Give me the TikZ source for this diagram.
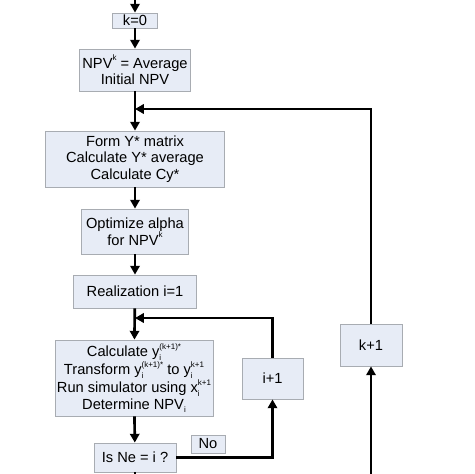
\documentclass[tikz,border=0pt]{standalone}
\usepackage{fontspec}
\setmainfont{Liberation Sans}
\usepackage{tikz}
\usetikzlibrary{arrows.meta, positioning}

\definecolor{boxfill}{RGB}{231,236,246}
\definecolor{boxline}{RGB}{168,172,178}

% 小号上下标(叠放)
\newcommand{\tsup}[1]{\raisebox{0.5em}{\fontsize{6}{6}\selectfont #1}}
\newcommand{\tsub}[1]{\raisebox{-0.25em}{\fontsize{6}{6}\selectfont #1}}
\newcommand{\yss}[2]{\rlap{\tsub{#1}}\tsup{#2}}

\begin{document}
\begin{tikzpicture}[
  >={Triangle[width=7pt, length=6.6pt]},
  x=0.75pt, y=-0.75pt, % 坐标刻度:1 单位 = 1 像素
  stepbox/.style={draw=boxline, fill=boxfill, line width=0.6pt, align=center,
                  inner sep=0pt, font=\fontsize{11}{12.4}\selectfont},
  flow/.style={->, line width=2pt},
  link/.style={line width=2pt}
]
  \useasboundingbox (0,0) rectangle (474,474);

  % 主流程
  \node[stepbox, minimum width=45*0.75pt, minimum height=15*0.75pt] (kzero) at (135,20.5) {k=0};
  \node[stepbox, minimum width=111*0.75pt, minimum height=42*0.75pt] (npvavg) at (135,70)
       {NPV\tsup{k} = Average\\Initial NPV};
  \node[stepbox, minimum width=179*0.75pt, minimum height=56*0.75pt] (formy) at (135,159)
       {Form Y* matrix\\Calculate Y* average\\Calculate Cy*};
  \node[stepbox, minimum width=107*0.75pt, minimum height=45*0.75pt] (optalpha) at (135,231.5)
       {Optimize alpha\\for NPV\tsup{k}};
  \node[stepbox, minimum width=123*0.75pt, minimum height=33*0.75pt] (realiz) at (135,291.5)
       {Realization i=1};
  \node[stepbox, minimum width=158*0.75pt, minimum height=76*0.75pt] (calcy) at (134,378)
       {Calculate y\yss{i}{(k+1)*}\\
        Transform y\yss{i}{(k+1)*} to y\yss{i}{k+1}\\
        Run simulator using x\yss{i}{k+1}\\
        Determine NPV\tsub{i}};
  \node[stepbox, minimum width=82*0.75pt, minimum height=29*0.75pt] (isne) at (135,457.5)
       {Is Ne = i ?};

  % 回路
  \node[stepbox, minimum width=34*0.75pt, minimum height=18*0.75pt] (nolbl) at (208,444) {No};
  \node[stepbox, minimum width=61*0.75pt, minimum height=41*0.75pt] (iplus) at (272.5,378.5) {i+1};
  \node[stepbox, minimum width=62*0.75pt, minimum height=42*0.75pt] (kplus) at (371,345) {k+1};

  \coordinate (topin) at (135,0);
  \coordinate (kjoin) at (135,109);
  \coordinate (ijoin) at (135,318);
  \coordinate (botout) at (135,474);
  \coordinate (kbot) at (371,474);

  \draw[flow] (topin) -- (kzero);
  \draw[flow] (kzero) -- (npvavg);
  \draw[flow] (npvavg) -- (formy);
  \draw[flow] (formy) -- (optalpha);
  \draw[flow] (optalpha) -- (realiz);
  \draw[flow] (realiz) -- (calcy);
  \draw[flow] (calcy) -- (isne);
  \draw[link] (isne) -- (botout);

  \draw[flow] (isne.east) -| (iplus.south);
  \draw[flow] (iplus.north) |- (ijoin);
  \draw[flow] (kbot) -- (kplus.south);
  \draw[flow] (kplus.north) |- (kjoin);
\end{tikzpicture}
\end{document}
